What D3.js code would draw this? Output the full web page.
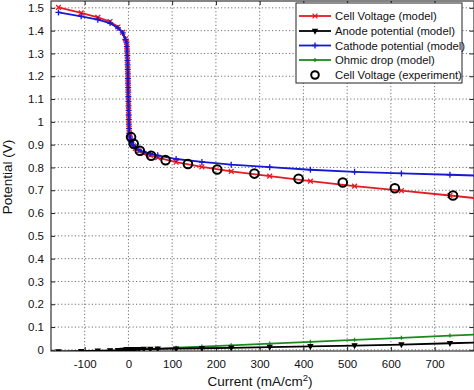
<!DOCTYPE html>
<html><head><meta charset="utf-8">
<script src="https://cdn.jsdelivr.net/npm/d3@7"></script>
<style>
html,body{margin:0;padding:0;background:#fff;}
text{font-family:"Liberation Sans",Arial,sans-serif;fill:#111;}
</style></head>
<body>
<svg id="chart" width="474" height="390"></svg>
<script>
// ---- data ----
const current = [-160,-108,-70,-42,-24,-13,-7,
  -4.5,-3.6,-3.0,-2.5,-2.1,-1.8,-1.5,-1.2,-1.0,-0.8,-0.6,-0.4,-0.2,0,0.2,0.4,0.6,0.8,1.1,1.5,2.1,
  3,4.5,7,11,16,24,35,50,
  67,109,168,235,323,416,517,624,735,850];
const cathode = [1.480,1.463,1.448,1.433,1.412,1.390,1.362,
  1.35,1.33,1.31,1.29,1.27,1.25,1.23,1.21,1.19,1.17,1.15,1.13,1.11,1.09,1.07,1.05,1.03,1.01,0.99,0.97,0.95,
  0.937,0.924,0.910,0.897,0.887,0.877,0.868,0.860,
  0.853,0.837,0.824,0.812,0.801,0.790,0.781,0.774,0.768,0.761];
const anode = [-0.008,-0.006,-0.004,-0.003,-0.002,-0.001,-0.001,
  0,0,0,0,0,0,0,0,0,0,0,0,0,0,0,0,0,0,0,0,0,
  0,0,0.001,0.001,0.002,0.002,0.003,0.003,
  0.004,0.005,0.007,0.009,0.012,0.015,0.019,0.023,0.029,0.035];
const ohmic = [-0.0136,-0.0092,-0.006,-0.0036,-0.002,-0.0011,-0.0006,
  0,0,0,0,0,0,0,0,0,0,0,0,0,0,0,0,0,0,0,0,0,
  0.0003,0.0004,0.0006,0.0009,0.0014,0.002,0.003,0.0043,
  0.0057,0.0093,0.0143,0.020,0.0275,0.0354,0.044,0.053,0.0625,0.072];
const cell = [1.502,1.478,1.458,1.440,1.416,1.392,1.364,
  1.35,1.33,1.31,1.29,1.27,1.25,1.23,1.21,1.19,1.17,1.15,1.13,1.11,1.09,1.07,1.05,1.03,1.01,0.99,0.97,0.95,
  0.937,0.924,0.909,0.895,0.884,0.873,0.862,0.853,
  0.843,0.823,0.803,0.783,0.762,0.740,0.718,0.698,0.677,0.654];
const expCurrent = [6,12,26,52,85,136,203,288,389,490,609,742];
const expVoltage = [0.933,0.904,0.873,0.851,0.832,0.815,0.791,0.773,0.750,0.734,0.709,0.677];
const xTicks = [-100,0,100,200,300,400,500,600,700];
const yTicks = [0,0.1,0.2,0.3,0.4,0.5,0.6,0.7,0.8,0.9,1,1.1,1.2,1.3,1.4,1.5];
const seriesNames = ["Cell Voltage (model)","Anode potential (model)","Cathode potential (model)","Ohmic drop (model)","Cell Voltage (experiment)"];

// ---- layout ----
const L=51, R=474, T=1, B=351;
const svg=d3.select("#chart");
const x=d3.scaleLinear().domain([-177,790]).range([L,R]);
const y=d3.scaleLinear().domain([-0.005,1.53]).range([B,T]);

svg.append("defs").append("clipPath").attr("id","clip")
  .append("rect").attr("x",L).attr("y",T).attr("width",R-L).attr("height",B-T);

// grid
const grid=svg.append("g");
grid.selectAll("line.gx").data(xTicks).join("line")
  .attr("x1",d=>x(d)).attr("x2",d=>x(d)).attr("y1",T).attr("y2",B)
  .attr("stroke","#707070").attr("stroke-width",1).attr("stroke-dasharray","1.2,2.2");
grid.selectAll("line.gy").data(yTicks).join("line")
  .attr("y1",d=>y(d)).attr("y2",d=>y(d)).attr("x1",L).attr("x2",R)
  .attr("stroke","#707070").attr("stroke-width",1).attr("stroke-dasharray","1.2,2.2");

// axes
const fmtY=d=>d3.format("~g")(d);
const fmtX=d=>String(d);
const gx=svg.append("g").attr("transform",`translate(0,${B})`)
  .call(d3.axisBottom(x).tickValues(xTicks).tickSizeInner(-4).tickSizeOuter(0).tickPadding(9).tickFormat(fmtX));
const gy=svg.append("g").attr("transform",`translate(${L},0)`)
  .call(d3.axisLeft(y).tickValues(yTicks).tickSizeInner(-4).tickSizeOuter(0).tickPadding(7).tickFormat(fmtY));
const gxt=svg.append("g").attr("transform",`translate(0,${T})`)
  .call(d3.axisTop(x).tickValues(xTicks).tickSizeInner(-4).tickSizeOuter(0).tickFormat(""));
const gyr=svg.append("g").attr("transform",`translate(${R-0.5},0)`)
  .call(d3.axisRight(y).tickValues(yTicks).tickSizeInner(-4).tickSizeOuter(0).tickFormat(""));
[gx,gy,gxt,gyr].forEach(g=>{
  g.select(".domain").remove();
  g.selectAll("line").attr("stroke","#222");
  g.selectAll("text").style("font-size","11.5px").attr("fill","#111")
   .style("font-family","'Liberation Sans',Arial,sans-serif");
});
svg.append("rect").attr("x",L).attr("y",T).attr("width",R-L).attr("height",B-T)
  .attr("fill","none").attr("stroke","#333").attr("stroke-width",1.2);

// series
const plot=svg.append("g").attr("clip-path","url(#clip)");
const series=[
  {vals:cell,   color:"#e31b23", marker:"x"},
  {vals:anode,  color:"#000000", marker:"tri"},
  {vals:cathode,color:"#1717d6", marker:"plus"},
  {vals:ohmic,  color:"#1e8a1e", marker:"plusS"}
];
function markerPath(type,cx,cy){
  if(type==="x"){const s=2.4;return `M${cx-s},${cy-s}L${cx+s},${cy+s}M${cx-s},${cy+s}L${cx+s},${cy-s}`;}
  if(type==="plus"){const s=3;return `M${cx-s},${cy}L${cx+s},${cy}M${cx},${cy-s}L${cx},${cy+s}`;}
  if(type==="plusS"){const s=2;return `M${cx-s},${cy}L${cx+s},${cy}M${cx},${cy-s}L${cx},${cy+s}`;}
  if(type==="tri"){const s=2.1;return `M${cx-s},${cy-s*0.8}L${cx+s},${cy-s*0.8}L${cx},${cy+s*1.1}Z`;}
}
const line=d3.line().x((d,i)=>x(current[i])).y(d=>y(d));
// draw order: ohmic, anode, cell, cathode (cathode on top in the steep section)
[3,1,0,2].forEach(k=>{
  const s=series[k];
  plot.append("path").datum(s.vals).attr("d",line).attr("fill","none")
    .attr("stroke",s.color).attr("stroke-width",1.8);
  plot.append("g").selectAll("path").data(s.vals).join("path")
    .attr("d",(d,i)=>markerPath(s.marker,x(current[i]),y(d)))
    .attr("stroke",s.color).attr("stroke-width",1.3)
    .attr("fill",s.marker==="tri"?s.color:"none");
});
plot.append("g").selectAll("circle").data(expVoltage).join("circle")
  .attr("cx",(d,i)=>x(expCurrent[i])).attr("cy",d=>y(d)).attr("r",4.3)
  .attr("fill","none").attr("stroke","#000").attr("stroke-width",2);

// axis labels
svg.append("text").attr("x",260).attr("y",386).attr("text-anchor","middle")
  .style("font-size","13.5px")
  .call(t=>{t.append("tspan").text("Current (mA/cm");
            t.append("tspan").attr("dy",-5).style("font-size","9.5px").text("2");
            t.append("tspan").attr("dy",5).text(")");});
svg.append("text").attr("transform","translate(12,177) rotate(-90)").attr("text-anchor","middle")
  .style("font-size","13.5px").text("Potential (V)");

// legend
const lg=svg.append("g");
lg.append("rect").attr("x",296).attr("y",3).attr("width",166).attr("height",80)
  .attr("fill","#fff").attr("stroke","#222").attr("stroke-width",1);
const rowsY=[16,31,45.5,60,75];
seriesNames.forEach((name,i)=>{
  const ry=rowsY[i];
  if(i<4){
    const s=series[i];
    lg.append("line").attr("x1",299).attr("x2",331).attr("y1",ry).attr("y2",ry)
      .attr("stroke",s.color).attr("stroke-width",1.8);
    lg.append("path").attr("d",markerPath(s.marker,315,ry)).attr("stroke",s.color)
      .attr("stroke-width",1.3).attr("fill",s.marker==="tri"?s.color:"none");
  } else {
    lg.append("circle").attr("cx",315).attr("cy",ry).attr("r",3.8).attr("fill","none")
      .attr("stroke","#000").attr("stroke-width",2);
  }
  lg.append("text").attr("x",335).attr("y",ry+4).style("font-size","11.3px").text(name);
});
</script>
</body></html>
